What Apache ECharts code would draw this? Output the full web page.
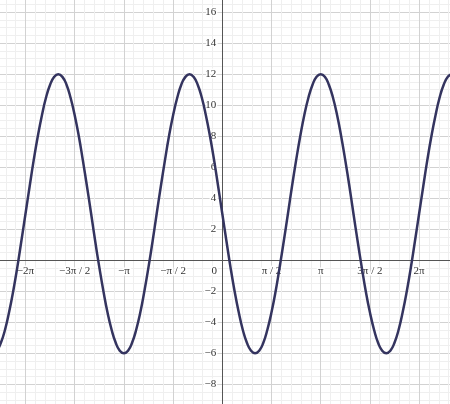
<!DOCTYPE html>
<html>
<head>
<meta charset="utf-8">
<script src="https://cdn.jsdelivr.net/npm/echarts@6/dist/echarts.min.js"></script>
<style>
html,body{margin:0;padding:0;background:#fff;}
#chart{width:450px;height:404px;}
</style>
</head>
<body>
<div id="chart"></div>
<script>
// x positions in units of π (x / π)
const curveX = [
  -2.333, -2.292, -2.25, -2.208, -2.167, -2.125, -2.083, -2.042,
  -2, -1.958, -1.917, -1.875, -1.833, -1.792, -1.75, -1.708,
  -1.667, -1.625, -1.583, -1.542, -1.5, -1.458, -1.417, -1.375,
  -1.333, -1.292, -1.25, -1.208, -1.167, -1.125, -1.083, -1.042,
  -1, -0.958, -0.917, -0.875, -0.833, -0.792, -0.75, -0.708,
  -0.667, -0.625, -0.583, -0.542, -0.5, -0.458, -0.417, -0.375,
  -0.333, -0.292, -0.25, -0.208, -0.167, -0.125, -0.083, -0.042,
  0,
  0.042, 0.083, 0.125, 0.167, 0.208, 0.25, 0.292, 0.333,
  0.375, 0.417, 0.458, 0.5, 0.542, 0.583, 0.625, 0.667,
  0.708, 0.75, 0.792, 0.833, 0.875, 0.917, 0.958, 1,
  1.042, 1.083, 1.125, 1.167, 1.208, 1.25, 1.292, 1.333,
  1.375, 1.417, 1.458, 1.5, 1.542, 1.583, 1.625, 1.667,
  1.708, 1.75, 1.792, 1.833, 1.875, 1.917, 1.958, 2,
  2.042, 2.083, 2.125, 2.167, 2.208, 2.25, 2.292, 2.333
];
const curveY = [
  -6, -5.83, -5.32, -4.48, -3.36, -2.0, -0.44, 1.24, 3, 4.76, 6.44, 8.0, 9.36, 10.48, 11.32, 11.83,
  12, 11.83, 11.32, 10.48, 9.36, 8.0, 6.44, 4.76, 3, 1.24, -0.44, -2.0, -3.36, -4.48, -5.32, -5.83,
  -6, -5.83, -5.32, -4.48, -3.36, -2.0, -0.44, 1.24, 3, 4.76, 6.44, 8.0, 9.36, 10.48, 11.32, 11.83,
  12, 11.83, 11.32, 10.48, 9.36, 8.0, 6.44, 4.76, 3, 1.24, -0.44, -2.0, -3.36, -4.48, -5.32, -5.83,
  -6, -5.83, -5.32, -4.48, -3.36, -2.0, -0.44, 1.24, 3, 4.76, 6.44, 8.0, 9.36, 10.48, 11.32, 11.83,
  12, 11.83, 11.32, 10.48, 9.36, 8.0, 6.44, 4.76, 3, 1.24, -0.44, -2.0, -3.36, -4.48, -5.32, -5.83,
  -6, -5.83, -5.32, -4.48, -3.36, -2.0, -0.44, 1.24, 3, 4.76, 6.44, 8.0, 9.36, 10.48, 11.32, 11.83,
  12
];

const xTickValues = [-2, -1.5, -1, -0.5, 0, 0.5, 1, 1.5, 2];
const xTickLabels = ['−2π', '−3π / 2', '−π', '−π / 2', '0', 'π / 2', 'π', '3π / 2', '2π'];
const yTickValues = [-8, -6, -4, -2, 2, 4, 6, 8, 10, 12, 14, 16];
const yTickLabels = ['−8', '−6', '−4', '−2', '2', '4', '6', '8', '10', '12', '14', '16'];

const points = curveX.map((x, i) => [x, curveY[i]]);

// view window: x in [-2.5π, 2.5π], y in [-10, 18]; grid extends past the canvas edges
const W = 450, H = 404;
const gridL = -23.7, gridR = -18.3, gridT = -18.8, gridB = -11.3;
const xMin = -2.5, xMax = 2.5, yMin = -10, yMax = 18;
const gridW = W - gridL - gridR, gridH = H - gridT - gridB;
// offsets that bring each axis onto the other axis' zero
const xAxisOffset = -((0 - yMin) / (yMax - yMin)) * gridH;
const yAxisOffset = -((0 - xMin) / (xMax - xMin)) * gridW;

const labelFont = {
  color: '#333',
  fontFamily: 'Liberation Serif',
  fontSize: 11,
  textBorderColor: '#fff',
  textBorderWidth: 3
};

const chart = echarts.init(document.getElementById('chart'), null, {renderer: 'canvas'});
chart.setOption({
  animation: false,
  backgroundColor: '#fff',
  grid: {
    left: gridL, right: gridR, top: gridT, bottom: gridB,
    containLabel: false,
    outerBoundsMode: 'none'
  },
  xAxis: {
    type: 'value',
    position: 'bottom',
    offset: xAxisOffset,
    min: xMin, max: xMax, interval: 0.5,
    axisLine: {onZero: false, lineStyle: {color: '#555', width: 1}},
    axisTick: {show: false},
    splitLine: {show: true, lineStyle: {color: '#d2d2d2', width: 1}},
    minorTick: {show: false, splitNumber: 5},
    minorSplitLine: {show: true, lineStyle: {color: '#efefef', width: 1}},
    axisLabel: Object.assign({}, labelFont, {
      margin: 5,
      formatter: function (v) {
        const idx = xTickValues.findIndex(t => Math.abs(t - v) < 1e-6);
        if (idx < 0) return '';
        if (xTickValues[idx] === 0) return '{z|0}';
        return xTickLabels[idx];
      },
      rich: {z: Object.assign({}, labelFont, {padding: [0, 16, 0, 0]})}
    })
  },
  yAxis: {
    type: 'value',
    position: 'left',
    offset: yAxisOffset,
    min: yMin, max: yMax, interval: 2,
    axisLine: {onZero: false, lineStyle: {color: '#555', width: 1}},
    axisTick: {show: false},
    splitLine: {show: true, lineStyle: {color: '#d2d2d2', width: 1}},
    minorTick: {show: false, splitNumber: 4},
    minorSplitLine: {show: true, lineStyle: {color: '#efefef', width: 1}},
    axisLabel: Object.assign({}, labelFont, {
      margin: 6,
      formatter: function (v) {
        const idx = yTickValues.findIndex(t => Math.abs(t - v) < 1e-6);
        return idx < 0 ? '' : yTickLabels[idx];
      }
    })
  },
  series: [{
    type: 'line',
    data: points,
    smooth: true,
    showSymbol: false,
    symbol: 'none',
    lineStyle: {color: '#34345f', width: 2.5},
    z: 5
  }]
});
</script>
</body>
</html>
